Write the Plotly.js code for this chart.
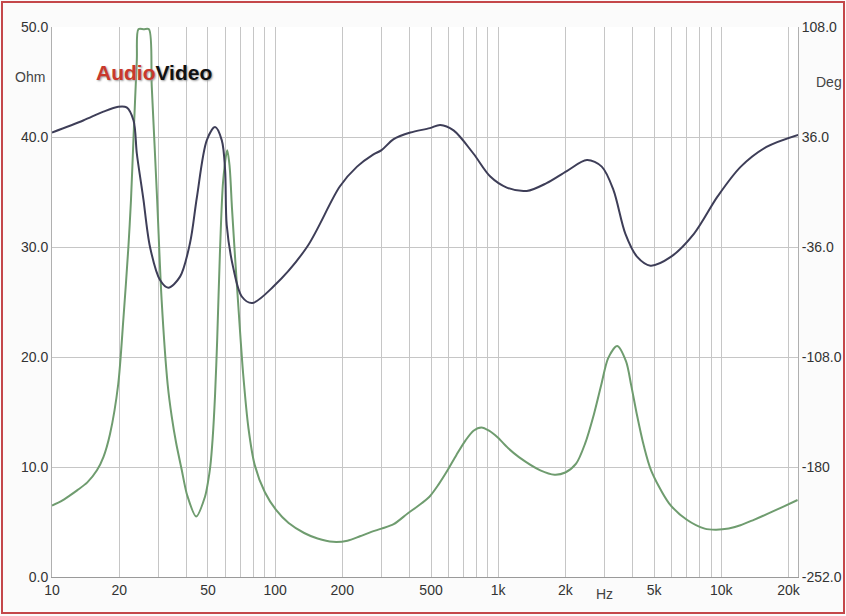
<!DOCTYPE html>
<html>
<head>
<meta charset="utf-8">
<script src="https://cdn.plot.ly/plotly-3.0.1.min.js"></script>
<style>
  html, body { margin: 0; padding: 0; background: #fbfbfb; }
  #wrap { position: relative; width: 846px; height: 616px; }
  #chart { width: 846px; height: 616px; }
  #frame { position: absolute; left: 1px; top: 1px; width: 840px; height: 609px;
           border: 2px solid #c4474a; pointer-events: none; }
</style>
</head>
<body>
<div id="wrap"><div id="chart"></div><div id="frame"></div></div>
<script>
// Impedance (Ohm) vs frequency (Hz)
const impFreq = [10, 11, 12, 13, 14.4, 15.9, 17, 18.2, 19.8, 20.9, 22.0, 22.6, 23.2, 24.0, 24.4, 25.8, 27.2, 28.0, 29.6, 31.0, 33.0, 34.4, 36.0, 38.1, 40.4, 44.3, 48.5, 50.0, 51.2, 52.5, 53.8, 55.0, 56.6, 58.5, 61, 62.5, 64.1, 66.2, 68.5, 71.9, 76, 81, 90, 101, 115, 135, 155, 182, 211, 240, 270, 300, 340, 394, 440, 492, 540, 593, 650, 713, 775, 841, 910, 993, 1110, 1239, 1545, 1790, 2000, 2235, 2450, 2687, 2900, 3113, 3413, 3743, 3950, 4183, 4500, 4846, 5834, 7010, 8430, 9420, 10800, 12190, 14000, 16370, 19000, 21980];
const impOhm  = [6.5, 6.9, 7.4, 7.9, 8.6, 9.7, 10.9, 13.0, 17.5, 23.5, 30.0, 34.3, 40, 47, 49.8, 49.8, 49.8, 44.6, 34.3, 25.2, 17.5, 14.6, 12.2, 9.8, 7.4, 5.5, 7.3, 8.6, 10.0, 12.6, 16.5, 21.5, 29.5, 36.0, 38.8, 37.4, 33.5, 29.0, 24.5, 18.5, 13.5, 10.2, 7.7, 6.1, 4.9, 4.0, 3.5, 3.2, 3.3, 3.7, 4.1, 4.4, 4.8, 5.8, 6.5, 7.3, 8.4, 9.7, 11.1, 12.4, 13.3, 13.6, 13.3, 12.7, 11.7, 10.9, 9.7, 9.3, 9.5, 10.3, 12.1, 14.8, 17.5, 19.9, 21.0, 19.6, 17.4, 14.8, 11.9, 9.7, 6.7, 5.2, 4.4, 4.3, 4.4, 4.7, 5.2, 5.8, 6.4, 7.0];

// Phase (Deg) vs frequency (Hz)
const phFreq = [10, 13.8, 17, 19.8, 21.6, 23.2, 24.0, 25.2, 25.7, 27.5, 30.5, 33.2, 37.5, 41.6, 44.6, 49.4, 53.8, 57.7, 59.7, 60.7, 64.8, 70.9, 78.9, 98.3, 139, 195, 233, 275, 300, 340, 404, 494, 550, 631, 774, 922, 1093, 1343, 1648, 2030, 2499, 2912, 3285, 3718, 4200, 4813, 5940, 7540, 9630, 12240, 15950, 22100];
const phDeg  = [38.9, 46.8, 52.6, 55.8, 55.4, 46.8, 25.2, 3.6, -5.0, -36, -57.6, -62.6, -55.4, -33.1, -3.6, 33.8, 42.5, 33.8, 14.4, -21.6, -49.0, -68.4, -72.7, -61.9, -36, 3.6, 16.6, 24.5, 27.4, 34.6, 38.9, 41.8, 43.9, 40.3, 25.2, 10.1, 2.9, 0.7, 5.8, 13.7, 20.9, 16.6, 1.4, -27.4, -42.5, -48.2, -42.5, -27.4, -2.9, 16.6, 29.5, 37.4];

// Axis ticks
const xTickVals = [10,20,30,40,50,60,70,80,90,100,200,300,400,500,600,700,800,900,1000,2000,3000,4000,5000,6000,7000,8000,9000,10000,20000];
const xTickText = ['10','20','','','50','','','','','100','200','','','500','','','','','1k','2k','','','5k','','','','','10k','20k'];
const yTickVals = [0, 10, 20, 30, 40, 50];
const yTickText = ['0.0', '10.0', '20.0', '30.0', '40.0', '50.0'];
const y2TickVals = [-252, -180, -108, -36, 36, 108];
const y2TickText = ['-252.0', '-180', '-108.0', '-36.0', '36.0', '108.0'];

const tickFont = {family: 'Liberation Sans, Arial, sans-serif', size: 14, color: '#333333'};

const traces = [
  {x: phFreq, y: phDeg, yaxis: 'y2', type: 'scatter', mode: 'lines',
   line: {color: '#3e3e58', width: 2, shape: 'spline', smoothing: 0.9}, hoverinfo: 'skip'},
  {x: impFreq, y: impOhm, type: 'scatter', mode: 'lines',
   line: {color: '#6f9c6f', width: 2, shape: 'spline', smoothing: 0.8}, hoverinfo: 'skip'}
];

const layout = {
  width: 846, height: 616,
  margin: {l: 52, r: 48, t: 27, b: 39},
  paper_bgcolor: '#fbfbfb', plot_bgcolor: '#ffffff',
  showlegend: false,
  xaxis: {type: 'log', range: [1, 4.344], tickmode: 'array', tickvals: xTickVals, ticktext: xTickText,
          showgrid: true, gridcolor: '#c6c6c6', gridwidth: 1, zeroline: false,
          showline: true, linecolor: '#9a9a9a', linewidth: 1, ticks: '', tickfont: tickFont},
  yaxis: {range: [0, 50], tickmode: 'array', tickvals: yTickVals, ticktext: yTickText,
          showgrid: true, gridcolor: '#c6c6c6', zeroline: false,
          showline: true, linecolor: '#b0b0b0', ticks: '', tickfont: tickFont},
  yaxis2: {range: [-252, 108], overlaying: 'y', side: 'right', tickmode: 'array',
           tickvals: y2TickVals, ticktext: y2TickText, showgrid: false, zeroline: false,
           showline: true, linecolor: '#b0b0b0', ticks: '', tickfont: tickFont},
  annotations: [
    {xref: 'paper', yref: 'paper', x: -0.029, y: 0.909, text: 'Ohm', showarrow: false,
     xanchor: 'center', yanchor: 'middle', font: {family: 'Liberation Sans, Arial, sans-serif', size: 14, color: '#444'}},
    {xref: 'paper', yref: 'paper', x: 1.022, y: 0.9, text: 'Deg', showarrow: false,
     xanchor: 'left', yanchor: 'middle', font: {family: 'Liberation Sans, Arial, sans-serif', size: 14, color: '#444'}},
    {xref: 'paper', yref: 'paper', x: 0.741, y: -0.031, text: 'Hz', showarrow: false,
     xanchor: 'center', yanchor: 'middle', font: {family: 'Liberation Sans, Arial, sans-serif', size: 14, color: '#444'}},
    {xref: 'paper', yref: 'paper', x: 0.056, y: 0.918, showarrow: false, xanchor: 'left', yanchor: 'middle',
     text: '<span style="color:#c9392c">Audio</span><span style="color:#111111">Video</span>',
     font: {family: 'Liberation Sans Narrow, Liberation Sans, Arial, sans-serif', size: 21, weight: 700,
            color: '#111', shadow: '1px 1px 2px #999'}}
  ]
};

Plotly.newPlot('chart', traces, layout, {staticPlot: true, displayModeBar: false});
</script>
</body>
</html>
